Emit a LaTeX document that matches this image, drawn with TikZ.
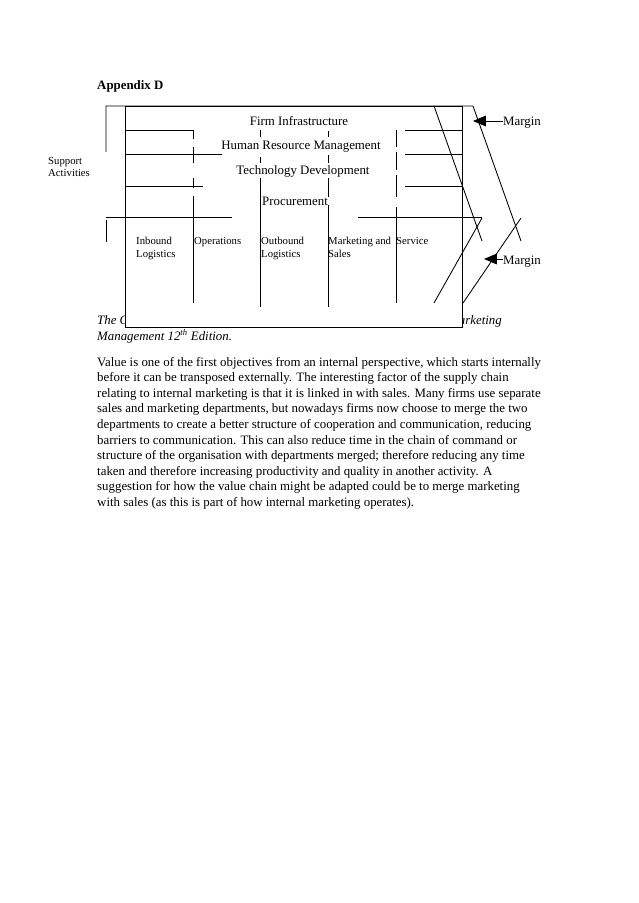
\documentclass[tikz,border=0pt]{standalone}
\usepackage{fontspec}
\setmainfont{Liberation Serif}
\usetikzlibrary{arrows.meta}

\tikzset{
  txt/.style={anchor=base west, inner sep=0pt, font=\fontsize{12}{14}\selectfont},
  ctxt/.style={anchor=base, inner sep=0pt, fill=white, inner xsep=1pt, font=\fontsize{12}{14}\selectfont},
  small/.style={anchor=base west, inner sep=0pt, font=\fontsize{10}{12}\selectfont},
  rule/.style={line width=0.8pt},
  marginarrow/.style={rule, -{Triangle[length=12pt,width=10pt]}}
}

\begin{document}
\begin{tikzpicture}[x=0.9326pt, y=-0.9326pt]
  \useasboundingbox[fill=white] (0,0) rectangle (638,903);

  \node[txt, font=\fontsize{12}{14}\selectfont\bfseries] (appendix) at (97,90) {Appendix D};

  % caption, partly hidden under the box
  \node[txt, font=\fontsize{12}{14}\selectfont\itshape] (capleft) at (97,324) {The Chain};
  \node[txt, anchor=base east, font=\fontsize{12}{14}\selectfont\itshape] (capright) at (502,324) {Marketing};
  \node[txt, font=\fontsize{12}{14}\selectfont\itshape] (capline) at (97,340) {Management 12\textsuperscript{th} Edition.};

  % value chain outline
  \draw[rule, fill=white] (125,106) rectangle (462,327);
  \draw[rule] (106,152) -- (106,106) -- (473,106) -- (521,241);
  \draw[rule] (434,106) -- (482,241);
  \draw[rule] (106,220) -- (106,242);
  \draw[rule] (106,217) -- (232,217);
  \draw[rule] (358,217) -- (482,217);
  \draw[rule] (482,218) -- (434,303);
  \draw[rule] (521,218) -- (463,303);

  % support activity dividers
  \foreach \y/\xa in {130/193, 154/222, 186/203}{
    \draw[rule] (125,\y) -- (\xa,\y);
    \draw[rule] (405,\y) -- (462,\y);
  }

  % broken column dividers
  \foreach \x/\ya/\yb in {193/130/139, 193/147/163, 193/178/188, 193/196/303,
                          260/130/137, 260/157/163, 260/178/307,
                          328/131/137, 328/155/163, 328/178/197, 328/205/307,
                          396/130/147, 396/152/170, 396/175/197, 396/207/303}
    \draw[rule] (\x,\ya) -- (\x,\yb);

  \node[ctxt] (firm) at (299,126) {Firm Infrastructure};
  \node[ctxt] (hrm) at (301,150) {Human Resource Management};
  \node[ctxt] (tech) at (303,174) {Technology Development};
  \node[txt] (proc) at (262,205) {Procurement};

  \node[small] (support) at (48,165) {Support};
  \node[small] (activities) at (48,177) {Activities};

  \node[small] (inbound) at (136,244) {Inbound};
  \node[small] (inbound2) at (136,257) {Logistics};
  \node[small] (operations) at (194,244) {Operations};
  \node[small] (outbound) at (261,244) {Outbound};
  \node[small] (outbound2) at (261,257) {Logistics};
  \node[small] (marketing) at (328,244) {Marketing and};
  \node[small] (marketing2) at (328,257) {Sales};
  \node[small] (service) at (396,244) {Service};

  \node[txt] (margintop) at (503,126) {Margin};
  \node[txt] (marginbot) at (503,264) {Margin};
  \coordinate (tiptop) at (473,121);
  \coordinate (tipbot) at (484,259);
  \draw[marginarrow] (margintop.west |- tiptop) -- (tiptop);
  \draw[marginarrow] (marginbot.west |- tipbot) -- (tipbot);

  % body text
  \foreach \t [count=\i from 0] in {
    {Value is one of the first objectives from an internal perspective, which starts internally},
    {before it can be transposed externally. The interesting factor of the supply chain},
    {relating to internal marketing is that it is linked in with sales. Many firms use separate},
    {sales and marketing departments, but nowadays firms now choose to merge the two},
    {departments to create a better structure of cooperation and communication, reducing},
    {barriers to communication. This can also reduce time in the chain of command or},
    {structure of the organisation with departments merged; therefore reducing any time},
    {taken and therefore increasing productivity and quality in another activity. A},
    {suggestion for how the value chain might be adapted could be to merge marketing},
    {with sales (as this is part of how internal marketing operates).}}
    \node[txt] (body\i) at (97,366+15.6*\i) {\t};
\end{tikzpicture}
\end{document}
